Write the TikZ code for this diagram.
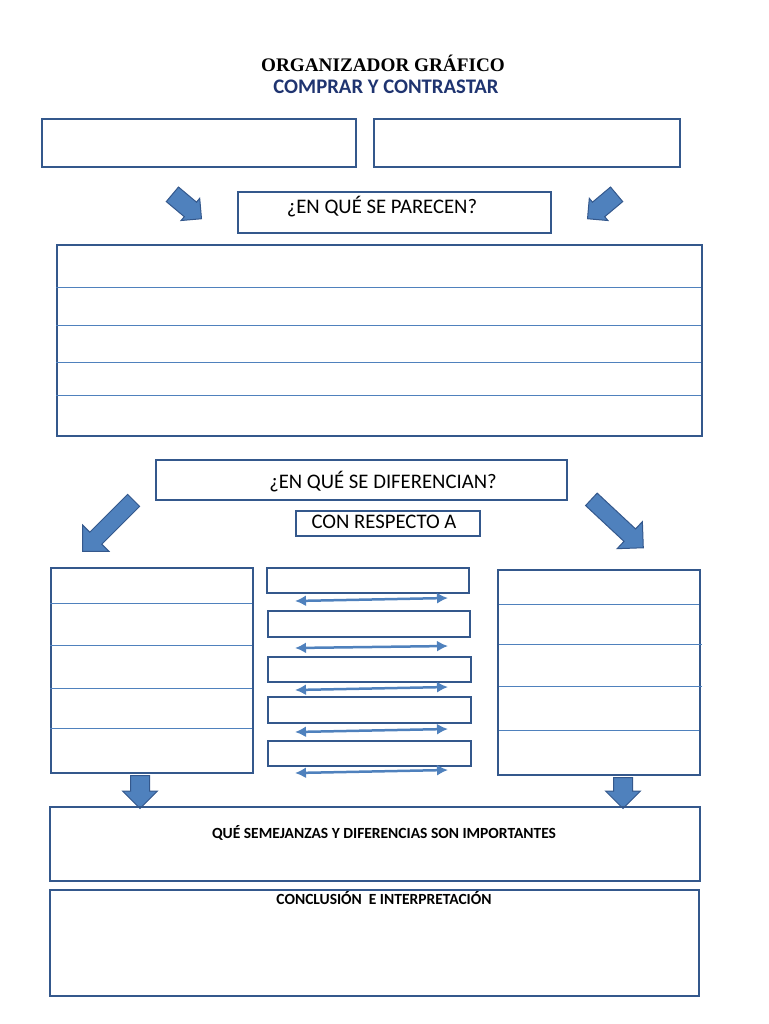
\documentclass[tikz,border=0pt]{standalone}
\usepackage{fontspec}
\setmainfont{Carlito}
\newfontfamily\titlefont{Liberation Serif}
\usetikzlibrary{arrows.meta,positioning,shapes.arrows}
\definecolor{frame}{RGB}{52,88,140}
\definecolor{fillblue}{RGB}{79,129,189}
\definecolor{navy}{RGB}{31,52,112}

\begin{document}
\begin{tikzpicture}[x=1pt, y=-1pt, font=\fontsize{20.7}{24}\selectfont,
box/.style={draw=frame, line width=1.8pt, anchor=north west, inner sep=0pt},
rule/.style={draw=fillblue, line width=1pt},
blockarrow/.style={single arrow, draw=frame, fill=fillblue, line width=1pt, anchor=tail},
twoway/.style={{Latex[length=11pt,width=11pt]}-{Latex[length=11pt,width=11pt]}, draw=fillblue, line width=2.5pt},
small/.style={font=\fontsize{15.5}{18}\selectfont\bfseries}]
\useasboundingbox (0,0) rectangle (768,1024);
% title
\node[font=\titlefont\fontsize{19.2}{22}\selectfont\bfseries] (title) at (383,63) {ORGANIZADOR GRÁFICO};
\node[font=\fontsize{20.7}{24}\selectfont\bfseries, text=navy] (subtitle) at (386,87) {COMPRAR Y CONTRASTAR};
% two topics
\node[box, minimum width=314, minimum height=48] (topicA) at (41,118) {};
\node[box, minimum width=306, minimum height=48] (topicB) at (373,118) {};
\node[blockarrow, rotate=-40, minimum height=38, inner sep=9, single arrow head extend=5] (arrA) at (172,194) {};
\node[blockarrow, rotate=-140, minimum height=38, inner sep=9, single arrow head extend=5] (arrB) at (617,194) {};
% similarities
\node[box, minimum width=313, minimum height=41] (alike) at (237,191) {};
\node (alikeText) at (382,207) {¿EN QUÉ SE PARECEN?};
\node[box, minimum width=645, minimum height=191] (alikeList) at (56,244) {};
\foreach \y in {287,325,362,395}
  \draw[rule] (56,\y) -- (701,\y);
% differences
\node[box, minimum width=411, minimum height=40] (differ) at (155,459) {};
\node (differText) at (383,482) {¿EN QUÉ SE DIFERENCIAN?};
\node[box, minimum width=184, minimum height=25] (respect) at (295,510) {};
\node (respectText) at (384,522) {CON RESPECTO A};
\node[blockarrow, rotate=-135, minimum height=72, minimum width=37, inner sep=8, single arrow head extend=10] (arrC) at (134,500) {};
\node[blockarrow, rotate=-43, minimum height=71, minimum width=37, inner sep=8, single arrow head extend=10] (arrD) at (591,499) {};
% left column
\node[box, minimum width=202, minimum height=205] (colA) at (50,567) {};
\foreach \y in {603,645,688,728}
  \draw[rule] (50,\y) -- (252,\y);
% right column
\node[box, minimum width=202, minimum height=205] (colB) at (497,569) {};
\foreach \y/\e in {604/699,644/702,686/702,730/699}
  \draw[rule] (499,\y) -- (\e,\y);
% criteria
\node[box, minimum width=202, minimum height=25] (crit1) at (266,567) {};
\node[box, minimum width=202, minimum height=26] (crit2) at (267,610) {};
\node[box, minimum width=203, minimum height=25] (crit3) at (267,656) {};
\node[box, minimum width=203, minimum height=26] (crit4) at (267,696) {};
\node[box, minimum width=203, minimum height=25] (crit5) at (267,740) {};
\foreach \i/\yl/\yr in {1/601/598,2/648/646,3/690/687,4/732/729,5/773/770} {
  \coordinate (l\i) at (295,\yl);
  \coordinate (r\i) at (448,\yr);
  \draw[twoway] (l\i) -- (r\i);
}
% summary
\node[blockarrow, rotate=-90, minimum height=33, minimum width=34, inner sep=9, single arrow head extend=8] (arrE) at (140,775) {};
\node[blockarrow, rotate=-90, minimum height=31, minimum width=34, inner sep=9, single arrow head extend=8] (arrF) at (623,777) {};
\node[box, minimum width=650, minimum height=74] (important) at (49,806) {};
\node[small] (importantText) at (384,833) {QUÉ SEMEJANZAS Y DIFERENCIAS SON IMPORTANTES};
\node[box, minimum width=649, minimum height=106] (conclusion) at (49,889) {};
\node[small] (conclusionText) at (384,898) {CONCLUSIÓN\ \ E INTERPRETACIÓN};
\end{tikzpicture}
\end{document}
